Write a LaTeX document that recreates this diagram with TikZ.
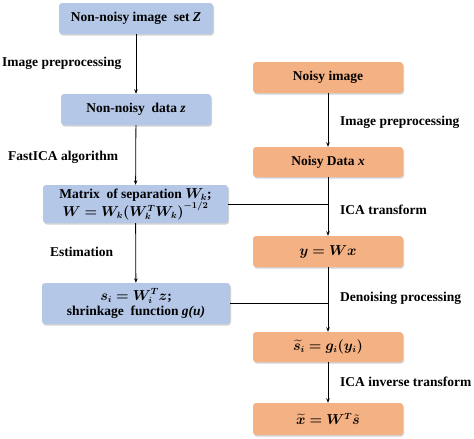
\documentclass[tikz,border=0pt]{standalone}
\usepackage{fontspec}
\setmainfont{Liberation Serif}
\usepackage{amsmath}
\usepackage{bm}
\usetikzlibrary{arrows.meta,shadows}
\definecolor{boxblue}{HTML}{B4C7E7}
\definecolor{boxorange}{HTML}{F4B183}
\begin{document}
\begin{tikzpicture}[x=1pt,y=-1pt,
  base/.style={rounded corners=3pt,inner sep=1pt,align=center,font=\bfseries\fontsize{13.5}{15}\selectfont,
    drop shadow={shadow xshift=1pt,shadow yshift=-1.5pt,fill=black!35,opacity=0.5}},
  bluebox/.style={base,fill=boxblue},
  orangebox/.style={base,fill=boxorange},
  arr/.style={-{Stealth[length=4.5pt,width=3.5pt]},line width=0.8pt},
  ln/.style={line width=0.8pt},
  lab/.style={anchor=west,inner sep=0pt,font=\bfseries\fontsize{13.5}{14}\selectfont}]
\useasboundingbox (0,0) rectangle (474,439);
% left column
\node[bluebox,minimum width=154pt,minimum height=31pt] (L1) at (136,18.5) {Non-noisy\ image\ \ set \textit{Z}};
\node[bluebox,minimum width=150pt,minimum height=31pt] (L2) at (136,109.5) {Non-noisy\ \ data \textit{z}};
\node[bluebox,minimum width=185pt,minimum height=38pt] (L3) at (135.5,204) {Matrix\ \ of\ separation $\bm{W_k}$;\\ $\bm{W = W_k(W_k^TW_k)^{-1/2}}$};
\node[bluebox,minimum width=188pt,minimum height=41pt] (L4) at (136,303.5) {$\bm{s_i = W_i^T z}$;\\ shrinkage\ \ function \textit{g(u)}};
% right column
\node[orangebox,minimum width=150pt,minimum height=31pt] (R1) at (328,77.5) {Noisy image};
\node[orangebox,minimum width=150pt,minimum height=30pt] (R2) at (328,162) {Noisy Data \textit{x}};
\node[orangebox,minimum width=150pt,minimum height=31pt] (R3) at (328,251.5) {$\bm{y = Wx}$};
\node[orangebox,minimum width=150pt,minimum height=30pt] (R4) at (328,347) {$\bm{\widetilde{s_i} = g_i(y_i)}$};
\node[orangebox,minimum width=150pt,minimum height=32pt] (R5) at (328,419) {$\bm{\widetilde{x} = W^T\tilde{s}}$};
% arrows
\draw[arr] (L1) -- (L2);
\draw[arr] (L2) -- (L3);
\draw[arr] (L3) -- (L4);
\draw[arr] (R1) -- (R2);
\draw[arr] (R2) -- (R3);
\draw[arr] (R3) -- (R4);
\draw[arr] (R4) -- (R5);
\coordinate (J1) at (R2.south |- L3.east);
\coordinate (J2) at (R3.south |- L4.east);
\draw[ln] (L3.east) -- (J1);
\draw[ln] (L4.east) -- (J2);
% labels
\node[lab] (t1) at (2,63) {Image preprocessing};
\node[lab] (t2) at (8,157) {FastICA algorithm};
\node[lab] (t3) at (50,252) {Estimation};
\node[lab] (t4) at (340,122) {Image preprocessing};
\node[lab] (t5) at (340,210) {ICA transform};
\node[lab] (t6) at (340,298) {Denoising processing};
\node[lab] (t7) at (340,382) {ICA inverse transform};
\end{tikzpicture}
\end{document}
